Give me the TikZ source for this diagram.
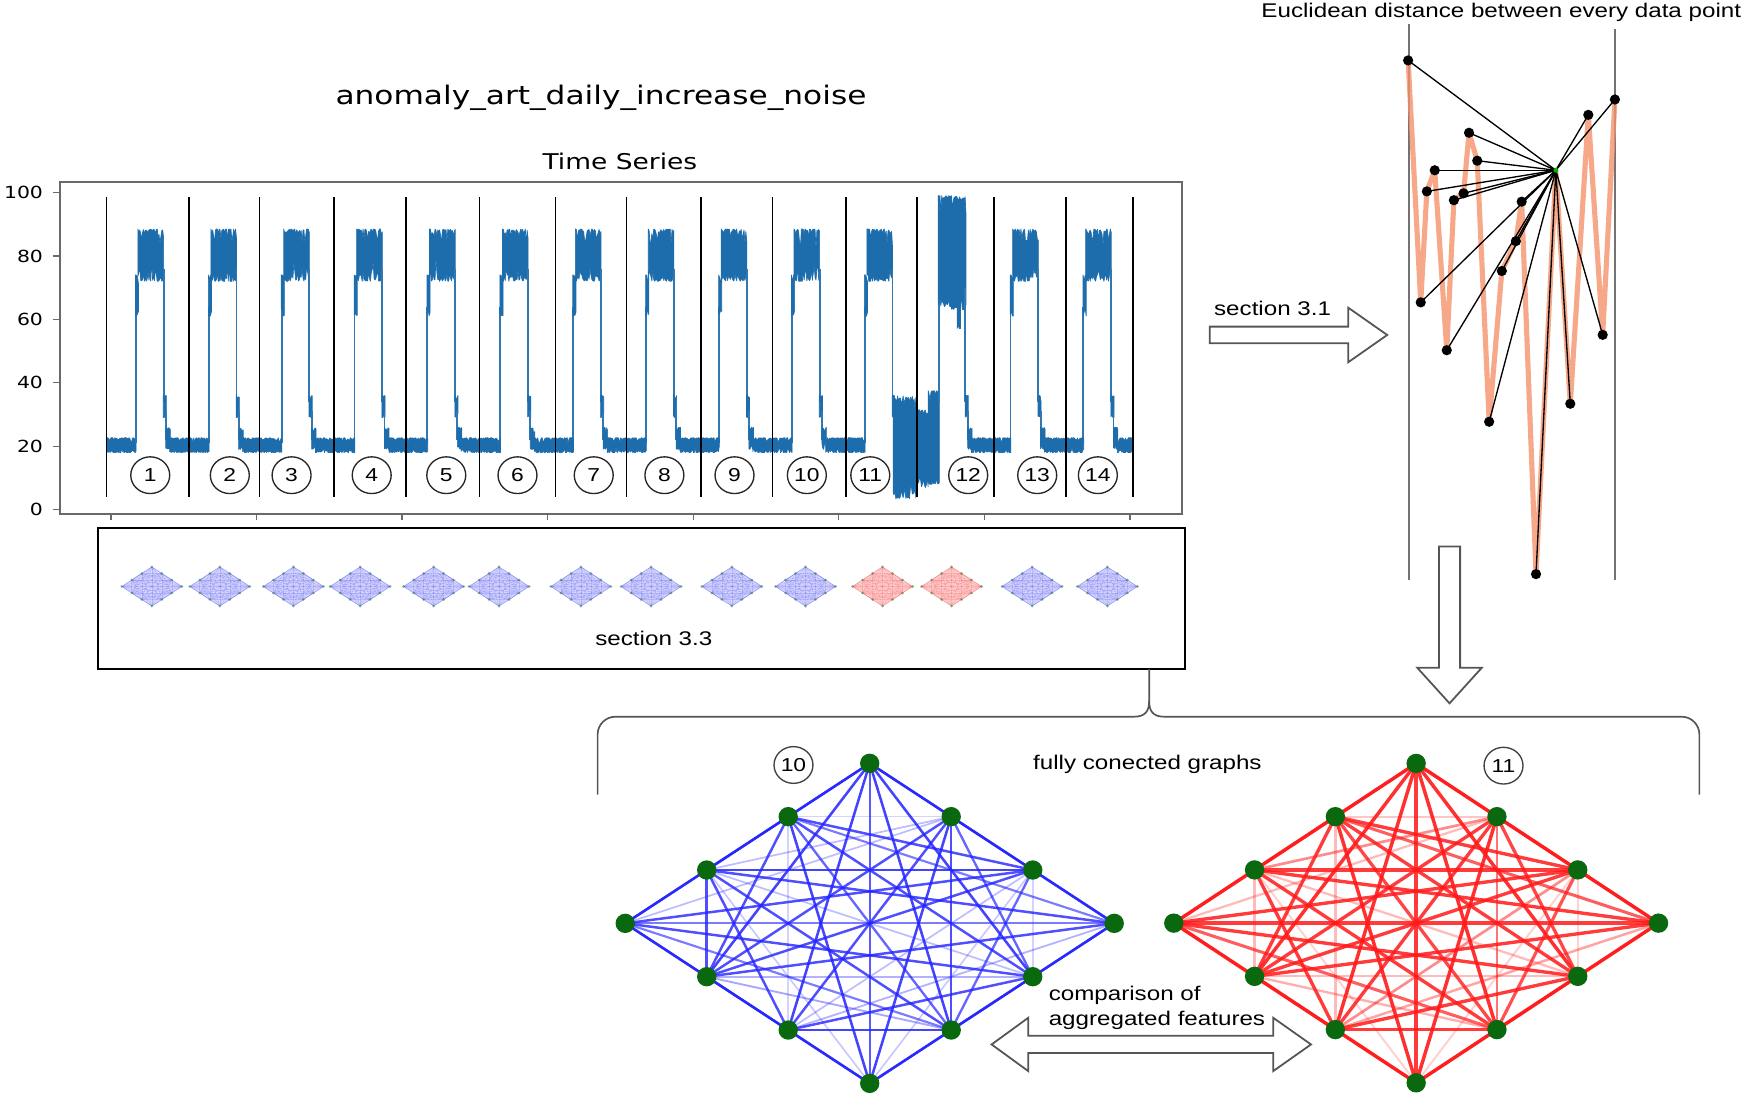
\documentclass[tikz,border=0pt]{standalone}
\usepackage{fontspec}
\setmainfont{Liberation Sans}[FakeStretch=1.22]
\newfontfamily\mplfont{DejaVu Sans}[FakeStretch=1.22]
\usetikzlibrary{shapes.geometric}
\definecolor{tsblue}{RGB}{29,108,172}
\definecolor{ngreen}{RGB}{10,105,15}
\definecolor{gblue}{RGB}{35,35,255}
\definecolor{gred}{RGB}{255,25,25}
\definecolor{orng}{RGB}{244,146,108}
\definecolor{fgray}{RGB}{105,105,105}
\definecolor{agray}{RGB}{85,85,85}
\definecolor{thumbblue}{RGB}{216,216,250}
\definecolor{thumbred}{RGB}{250,210,210}

\newcommand{\Yv}[1]{458-2.85*(#1)}
% noisy filled band between lo and hi with jagged edges
\newcommand{\band}[5]{%
  \pgfmathtruncatemacro{\nn}{max(2,((#2)-(#1))/0.8)}%
  \filldraw[tsblue, line width=0.3pt, line join=round] ({#1},{\Yv{#4}})
    \foreach \ii in {1,...,\nn} { -- ({#1+((#2)-(#1))*\ii/\nn},{\Yv{#4-rnd*rnd*rnd*(#5)}}) }
    \foreach \ii in {\nn,...,0} { -- ({#1+((#2)-(#1))*\ii/\nn},{\Yv{#3+rnd*rnd*rnd*(#5)}}) } -- cycle;%
}
\newcommand{\pulse}[1]{%
  \pgfmathsetmacro{\xf}{#1+25}%
  \draw[tsthin] ({#1},{\Yv{21}}) -- ({#1},{\Yv{64}});
  \band{#1-0.3}{#1+2.5}{61}{74}{5}%
  \band{#1+2}{\xf}{72}{88.5}{9}%
  \draw[tsthin] (\xf,{\Yv{76}}) -- (\xf,{\Yv{34}});
  \band{\xf-0.3}{\xf+2.5}{29}{36}{3}%
  \draw[tsthin] ({\xf+2},{\Yv{31}}) -- ({\xf+2},{\Yv{22}});
  \band{\xf+2}{\xf+6}{19}{26}{4}%
}
\newcommand{\gcoords}[5]{%
  \foreach \i/\u/\v in {0/0/-1, 1/0.3333/-0.6667, 2/0.6667/-0.3333, 3/1/0, 4/0.6667/0.3333, 5/0.3333/0.6667, 6/0/1, 7/-0.3333/0.6667, 8/-0.6667/0.3333, 9/-1/0, 10/-0.6667/-0.3333, 11/-0.3333/-0.6667}
    {\coordinate (#1\i) at ({#2+(#4)*\u},{#3+(#5)*\v});}%
}
\newcommand{\gedges}[3]{%
  \foreach \a/\b/\w in #3 {\draw[#2, opacity=\w] (#1\a) -- (#1\b);}%
}
\newcommand{\gall}[2]{%
  \foreach \a in {0,...,10} {\pgfmathtruncatemacro{\st}{\a+1}\foreach \b in {\st,...,11} {\draw[#2] (#1\a) -- (#1\b);}}%
}
\newcommand{\gnodes}[3]{\foreach \i in {0,...,11} {\fill[#3] (#1\i) circle[radius=#2];}}

\def\blueW{0/11/0.9, 0/10/0.5, 0/9/0.5, 11/10/0.9, 11/9/0.5, 10/9/0.9,
 9/8/0.9, 9/7/0.5, 9/6/0.5, 8/7/0.9, 8/6/0.5, 7/6/0.9,
 6/5/0.9, 6/4/0.5, 6/3/0.5, 5/4/0.9, 5/3/0.5, 4/3/0.9,
 3/2/0.9, 3/1/0.5, 3/0/0.5, 2/1/0.9, 2/0/0.5, 1/0/0.9,
 11/1/0.2, 10/2/0.85, 9/3/0.6, 8/4/0.35, 7/5/0.85,
 0/6/0.75, 11/7/0.2, 10/8/0.8, 1/5/0.8, 2/4/0.2,
 0/4/0.85, 0/5/0.85, 0/7/0.85, 0/8/0.85, 6/1/0.85, 6/2/0.25, 6/10/0.25, 6/11/0.85,
 9/1/0.3, 9/2/0.8, 9/4/0.8, 9/5/0.6, 3/7/0.35, 3/8/0.8, 3/10/0.8, 3/11/0.6,
 1/4/0.7, 1/7/0.8, 1/8/0.8, 1/10/0.3, 2/5/0.7, 2/7/0.3, 2/8/0.8, 2/11/0.8,
 4/7/0.8, 4/10/0.3, 4/11/0.8, 5/8/0.4, 5/10/0.8, 5/11/0.7, 7/10/0.8, 8/11/0.8}
\def\redW{0/11/0.9, 0/10/0.5, 0/9/0.5, 11/10/0.9, 11/9/0.5, 10/9/0.9,
 9/8/0.9, 9/7/0.5, 9/6/0.5, 8/7/0.9, 8/6/0.5, 7/6/0.9,
 6/5/0.9, 6/4/0.5, 6/3/0.5, 5/4/0.9, 5/3/0.5, 4/3/0.9,
 3/2/0.9, 3/1/0.5, 3/0/0.5, 2/1/0.9, 2/0/0.5, 1/0/0.9,
 11/1/0.25, 10/2/0.85, 9/3/0.85, 8/4/0.3, 7/5/0.85,
 0/6/0.85, 11/7/0.3, 10/8/0.3, 1/5/0.6, 2/4/0.2,
 0/4/0.9, 0/5/0.9, 0/7/0.9, 0/8/0.9, 6/1/0.9, 6/2/0.2, 6/10/0.2, 6/11/0.9,
 9/1/0.3, 9/2/0.85, 9/4/0.85, 9/5/0.7, 3/7/0.4, 3/8/0.85, 3/10/0.85, 3/11/0.7,
 1/4/0.8, 1/7/0.85, 1/8/0.85, 1/10/0.5, 2/5/0.75, 2/7/0.5, 2/8/0.85, 2/11/0.85,
 4/7/0.85, 4/10/0.3, 4/11/0.85, 5/8/0.35, 5/10/0.85, 5/11/0.8, 7/10/0.85, 8/11/0.85}

\begin{document}
\begin{tikzpicture}[x=0.5pt,y=-0.5pt,
  tsthin/.style={tsblue!92, line width=0.85pt},
  sep/.style={black, line width=0.7pt},
  numcirc/.style={ellipse, draw=black!85, line width=0.6pt, minimum width=17.5pt, minimum height=16.5pt, inner sep=0pt, font=\fontsize{8.4}{9}\selectfont},
  lab/.style={font=\fontsize{8.9}{10.5}\selectfont, inner sep=0pt},
  mpl/.style={font=\mplfont\fontsize{#1}{#1}\selectfont, inner sep=0pt},
  blockarrow/.style={draw=agray, fill=white, line width=0.8pt, line join=miter},
  brace/.style={agray, line width=0.75pt},
  bedge/.style={gblue, line width={(0.45+0.55*\w)*1.25pt}},
  redge/.style={gred, line width={(0.45+0.55*\w)*1.65pt}},
  spoke/.style={black, line width=0.6pt},
  panelline/.style={black!55, line width=1pt}
]
\useasboundingbox (0,0) rectangle (1568,988);
\pgfmathsetseed{12345}

% ---------- titles
\node[mpl=11.5] (title) at (540,88) {anomaly\_art\_daily\_increase\_noise};
\node[mpl=9.75] (tstitle) at (557,145) {Time Series};

% ---------- axes
\draw[fgray, line width=0.8pt] (54,163.5) rectangle (1062,462);
\foreach \v in {0,20,40,60,80,100} {
  \draw[fgray, line width=0.6pt] (47.3,{\Yv{\v}}) -- (54,{\Yv{\v}});
  \node[mpl=7.5, anchor=east] (tick\v) at (39,{\Yv{\v}}) {\v};
}
\foreach \x in {99.7,230.5,361.3,492.1,622.9,753.7,884.5,1015.3}
  \draw[fgray, line width=0.6pt] (\x,462) -- (\x,467);

% ---------- time series
\band{95.6}{122.3}{18}{22.7}{2.5}
\foreach \r in {122,187.5,253,318.5,384,449.5,515,580.5,646,711.5,777,908,973.5} {\pulse{\r}}
\foreach \a/\b in {152.5/187.8,218/253.3,283.5/318.8,349/384.3,414.5/449.8,480/515.3,545.5/580.8,611/646.3,676.5/711.8,742/777.3,873/908.3,938.5/973.8,1004/1017}
  {\band{\a}{\b}{18}{22.7}{2.5}}
% anomaly (segments 11/12)
\band{802.5}{823}{3.5}{36}{10}
\band{823}{834}{7}{31.5}{8}
\band{834}{844}{8}{37.5}{9}
\draw[tsthin] (843.5,{\Yv{34}}) -- (843.5,{\Yv{72}});
\band{843}{855}{64}{99}{12}
\band{855}{868}{63}{99}{12}
\band{860}{863}{57}{66}{3}
\draw[tsthin] (867.5,{\Yv{70}}) -- (867.5,{\Yv{34}});
\band{867.2}{870}{29}{36}{3}
\draw[tsthin] (869.5,{\Yv{31}}) -- (869.5,{\Yv{22}});
\band{869.5}{873.5}{19}{26}{4}

% ---------- separators and numbers
\foreach \x in {95.6,170,233,300,365,431,499,563,630,694,760,824,893,958,1018}
  \draw[sep] (\x,177) -- (\x,447);
\foreach \n/\x in {1/135,2/206.5,3/262,4/334,5/401,6/465,7/533.5,8/597,9/660,10/725,11/782,12/870,13/932,14/986.5}
  \node[numcirc] (seg\n) at (\x,427) {\n};

% ---------- section 3.3 box with thumbnails
\draw[black, line width=0.75pt] (88,474.5) rectangle (1065,601);
\foreach \k/\cx/\ec/\fc in {1/136.4/gblue/thumbblue, 2/197.5/gblue/thumbblue, 3/263.7/gblue/thumbblue, 4/323.6/gblue/thumbblue, 5/389.7/gblue/thumbblue, 6/448.4/gblue/thumbblue, 7/522/gblue/thumbblue, 8/585/gblue/thumbblue, 9/657.6/gblue/thumbblue, 10/723.8/gblue/thumbblue, 11/793/gred/thumbred, 12/855/gred/thumbred, 13/927.4/gblue/thumbblue, 14/995/gblue/thumbblue} {
  \gcoords{t\k n}{\cx}{527}{27}{17.6}
  \fill[\fc] (t\k n0) -- (t\k n3) -- (t\k n6) -- (t\k n9) -- cycle;
  \gall{t\k n}{\ec, opacity=0.16, line width=0.25pt}
  \gnodes{t\k n}{1.3}{ngreen!70, opacity=0.7}
}
\node[lab] (sec33) at (587.5,573.6) {section 3.3};

% ---------- right panel: distances
\node[lab] (eucl) at (1349,11.5) {Euclidean distance between every data point};
\draw[panelline] (1266,22) -- (1266,521);
\draw[panelline] (1451,26) -- (1451,521);
\coordinate (h) at (1398,153);
\foreach \n/\x/\y in {1/1265.3/54.3, 2/1451.1/89.4, 3/1427.2/103.2, 4/1320/119.3, 5/1327.4/144.4, 6/1289.2/153, 7/1282.1/172, 8/1315.1/173.7, 9/1306.4/179.9, 10/1367.3/181.2, 11/1362.1/216.7, 12/1349.5/243.5, 13/1276.6/271.7, 14/1300/314.7, 15/1440.1/300.9, 16/1411/362.8, 17/1338.1/379, 18/1380.2/515.9}
  \coordinate (p\n) at (\x,\y);
\draw[orng, opacity=0.8, line width=2.3pt, line join=round]
  (p1) -- (p13) -- (p7) -- (p6) -- (p14) -- (p9) -- (p8) -- (p4) -- (p5) -- (p17) -- (p12) -- (p11) -- (p10) -- (p18) -- (h) -- (p16) -- (p3) -- (p15) -- (p2);
\foreach \n in {1,...,18} \draw[spoke] (h) -- (p\n);
\foreach \n in {1,...,18} \fill[black] (p\n) circle[radius=4.6];
\fill[green!70!black] (h) circle[radius=2.2];

% ---------- block arrows
\node[lab] (sec31) at (1143.5,277) {section 3.1};
\draw[blockarrow] (1087,293.5) -- (1211.5,293.5) -- (1211.5,276.5) -- (1246.5,301) -- (1211.5,325.5) -- (1211.5,308.5) -- (1087,308.5) -- cycle;
\draw[blockarrow] (1293,491) -- (1312,491) -- (1312,600) -- (1331.5,600) -- (1302.5,632) -- (1273.5,600) -- (1293,600) -- cycle;

% ---------- brace
\coordinate (brtop) at (1032.6,601);
\coordinate (brcusp) at (1032.6,630);
\coordinate (brL) at (537,714);
\coordinate (brR) at (1527,714);
\draw[brace] (brL) -- (537,660) arc[start angle=180, end angle=270, radius=16] -- (1019,644) .. controls (1029,644) and (1032.6,639) .. (brcusp) -- (brtop);
\draw[brace] (brR) -- (1527,660) arc[start angle=0, end angle=-90, radius=16] -- (1046,644) .. controls (1036,644) and (1032.6,639) .. (brcusp);
\node[lab] (fcg) at (1031,687) {fully conected graphs};

% ---------- big graphs
\gcoords{bn}{781.5}{829.7}{219.7}{143.8}
\gedges{bn}{bedge}{\blueW}
\gnodes{bn}{8.7}{ngreen}
\gcoords{rn}{1272.5}{829.5}{217.8}{143.5}
\gedges{rn}{redge}{\redW}
\gnodes{rn}{8.7}{ngreen}
\node[numcirc, draw=black!75] (g10) at (713,687.4) {10};
\node[numcirc, draw=black!75] (g11) at (1351,688) {11};

% ---------- comparison arrow
\draw[blockarrow] (891,938.5) -- (924,914.5) -- (924,930.75) -- (1144,930.75) -- (1144,914.5) -- (1178,938.5) -- (1144,962.5) -- (1144,946.25) -- (924,946.25) -- (924,962.5) -- cycle;
\node[lab, anchor=west] (cmp1) at (942,894) {comparison of};
\node[lab, anchor=west] (cmp2) at (942,916.5) {aggregated features};
\end{tikzpicture}
\end{document}
